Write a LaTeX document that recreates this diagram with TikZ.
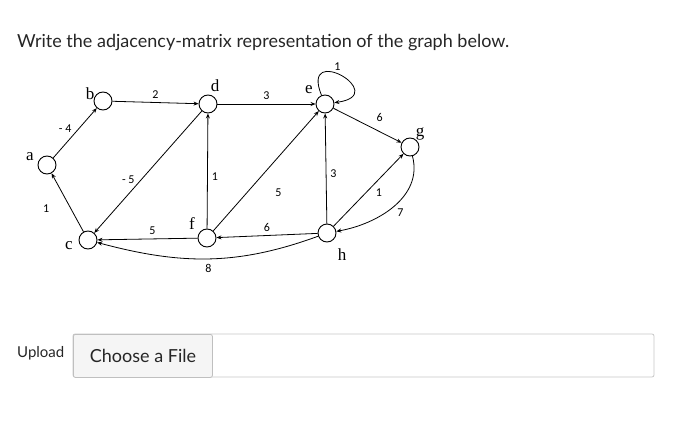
\documentclass[tikz,border=0pt]{standalone}
\usepackage{fontspec}
\setmainfont{Lato}
\newfontfamily\lblfont{Liberation Serif}
\newfontfamily\wfont{Carlito}
\usetikzlibrary{arrows.meta, positioning}

\tikzset{
	vertex/.style={draw,circle,inner sep=0pt,minimum size=18pt,line width=0.9pt},
	lbl/.style={font=\lblfont\fontsize{17}{17}\selectfont,inner sep=0pt},
	weight/.style={font=\wfont\fontsize{12}{12}\selectfont,inner sep=0pt},
	edge/.style={-{Stealth[length=5pt,width=4pt]},line width=0.8pt,shorten >=0pt}
}

\begin{document}
\begin{tikzpicture}[x=1pt,y=-1pt]
\useasboundingbox (0,0) rectangle (700,422);
\node[anchor=base west,font=\fontsize{18}{18}\selectfont,text=black!85,inner sep=0pt] (title) at (17,48) {Write the adjacency-matrix representation of the graph below.};
% vertices
\node[vertex] (a) at (47,165) {};
\node[vertex] (b) at (103,101) {};
\node[vertex] (c) at (88,240) {};
\node[vertex] (d) at (208,104) {};
\node[vertex] (e) at (325,104) {};
\node[vertex] (f) at (207,238) {};
\node[vertex] (g) at (410,147) {};
\node[vertex] (h) at (327,233) {};
\draw
	(30,157) node[lbl] (la) {a}
	(90,94) node[lbl] (lb) {b}
	(69,246) node[lbl] (lc) {c}
	(215,86) node[lbl] (ld) {d}
	(309,90) node[lbl] (le) {e}
	(420,134) node[lbl] (lg) {g}
	(192,224) node[lbl] (lf) {f}
	(342,255) node[lbl] (lh) {h};
% edges
\draw[edge] (a) -- node[weight,above left=3pt and 1pt,pos=0.45] {- 4} (b);
\draw[edge] (c) -- node[weight,pos=0.4,left=21pt] {1} (a);
\draw[edge] (b) -- node[weight,above=4pt] {2} (d);
\draw[edge] (d) -- node[weight,pos=0.6,xshift=-9pt,yshift=4pt] {- 5} (c);
\draw[edge] (d) -- node[weight,above=4pt] {3} (e);
\draw[edge] (f) -- node[weight,right=4pt,pos=0.45] {1} (d);
\draw[edge] (f) -- node[weight,pos=0.32,right=28pt] {5} (e);
\draw[edge] (f) -- node[weight,above=4pt,pos=0.45] {5} (c);
\draw[edge] (h) -- node[weight,above=4pt] {6} (f);
\draw[edge] (h) -- node[weight,right=4pt,pos=0.45] {3} (e);
\draw[edge] (e) -- node[weight,pos=0.68,above=10pt] {6} (g);
\draw[edge] (h) -- node[weight,pos=0.47,right=9pt] {1} (g);
\draw[edge] (e) to[out=112,in=8,looseness=10] node[weight,pos=0.45,above=3pt] {1} (e);
\draw[edge] (g) to[out=-75,in=10] node[weight,pos=0.5,below right=2pt and 3pt] {7} (h);
\draw[edge] (h) to[out=-160,in=-15] node[weight,pos=0.5,below=5pt] {8} (c);
% upload row
\node[anchor=base west,font=\fontsize{15}{15}\selectfont,text=black!85,inner sep=0pt] (upload) at (17,357) {Upload};
\draw[black!22,line width=0.8pt,rounded corners=2pt] (73,334) rectangle (654,377);
\node[draw=black!25,fill=black!4,line width=0.8pt,rounded corners=2pt,minimum width=139pt,minimum height=43pt,anchor=north west,inner sep=0pt] (choose) at (73,334) {};
\node[font=\fontsize{18}{18}\selectfont,text=black!85,anchor=base,inner sep=0pt] (chooselbl) at (143,362) {Choose a File};
\end{tikzpicture}
\end{document}
